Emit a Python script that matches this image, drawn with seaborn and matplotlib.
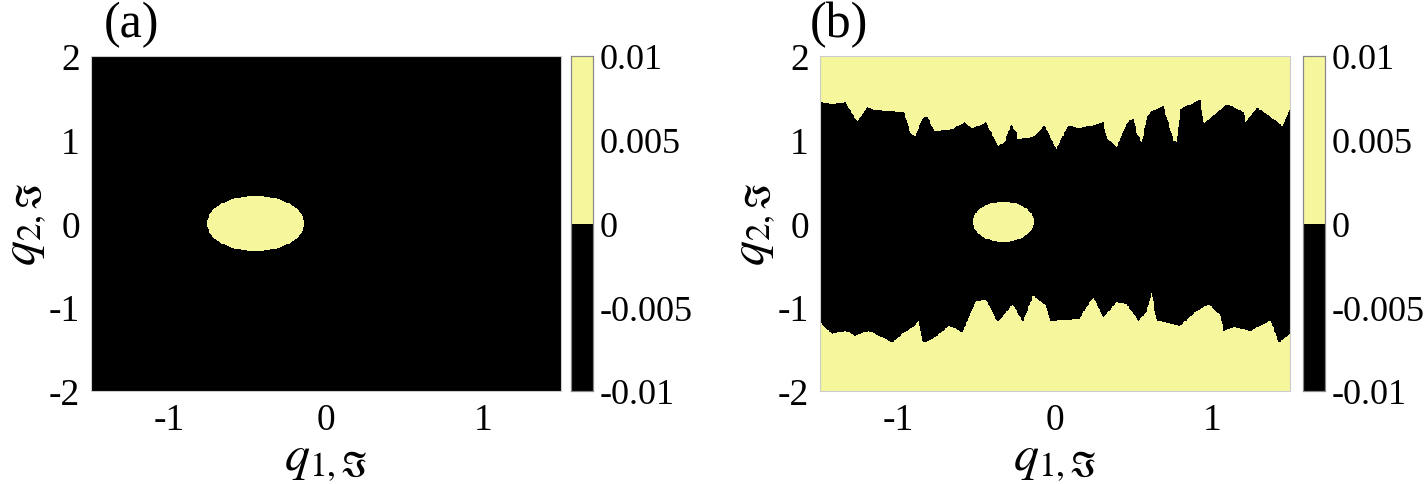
import numpy as np
import pandas as pd
import matplotlib
matplotlib.use("Agg")
import matplotlib.pyplot as plt
import seaborn as sns
from matplotlib.colors import ListedColormap

# grid range of both panels
q1_range = [-1.5, 1.5]
q2_range = [-2.0, 2.0]

# yellow blob in panel (a): centre and half widths
blob_a = {"q1": -0.45, "q2": 0.0, "r1": 0.31, "r2": 0.33}
# smaller blob in panel (b)
blob_b = {"q1": -0.33, "q2": 0.02, "r1": 0.195, "r2": 0.24}

# panel (b): jagged edge between black band and upper yellow region
upper_q1 = [-1.5, -1.423, -1.338, -1.263, -1.199, -1.124, -0.963, -0.921, -0.889, -0.846,
            -0.814, -0.771, -0.654, -0.579, -0.526, -0.440, -0.365, -0.322, -0.280, -0.248,
            -0.237, -0.141, -0.066, 0.008, 0.083, 0.158, 0.308, 0.329, 0.393, 0.457,
            0.500, 0.521, 0.553, 0.585, 0.607, 0.692, 0.713, 0.756, 0.778, 0.799,
            0.928, 0.949, 1.098, 1.205, 1.216, 1.290, 1.451, 1.5]
upper_q2 = [1.45, 1.43, 1.447, 1.216, 1.387, 1.347, 1.328, 1.069, 1.049, 1.256,
            1.28, 1.108, 1.128, 1.208, 1.136, 1.208, 0.929, 0.969, 1.188, 1.089,
            1.009, 1.029, 1.168, 0.890, 1.168, 1.136, 1.208, 1.029, 0.910, 1.188,
            1.268, 1.089, 0.969, 1.248, 1.328, 1.407, 1.268, 0.989, 0.969, 1.367,
            1.478, 1.19, 1.427, 1.328, 1.208, 1.387, 1.168, 1.36]

# panel (b): jagged edge between black band and lower yellow region
lower_q1 = [-1.5, -1.423, -1.338, -1.274, -1.188, -1.038, -0.963, -0.910, -0.867, -0.846,
            -0.782, -0.675, -0.590, -0.504, -0.440, -0.365, -0.269, -0.205, -0.141, -0.056,
            -0.034, 0.158, 0.179, 0.244, 0.308, 0.393, 0.457, 0.532, 0.585, 0.617,
            0.649, 0.799, 0.895, 0.981, 1.056, 1.077, 1.141, 1.248, 1.376, 1.429, 1.5]
lower_q2 = [-1.18, -1.319, -1.28, -1.339, -1.28, -1.419, -1.299, -1.24, -1.16, -1.42,
            -1.38, -1.22, -1.299, -0.921, -0.91, -1.18, -0.961, -1.18, -0.862, -0.981,
            -1.16, -1.14, -1.06, -0.881, -1.12, -0.941, -0.961, -1.16, -1.06, -0.822,
            -1.16, -1.22, -1.06, -0.961, -1.10, -1.28, -1.24, -1.28, -1.16, -1.42, -1.32]

level = 0.01
cbar_ticks = [-0.01, -0.005, 0, 0.005, 0.01]
cbar_labels = ["-0.01", "-0.005", "0", "0.005", "0.01"]
x_ticks = [-1, 0, 1]
y_ticks = [-2, -1, 0, 1, 2]

yellow = "#F6F69D"
cmap = ListedColormap(["#000000", yellow])

# grid of cell centres
nx, ny = 600, 400
step1 = (q1_range[1] - q1_range[0]) / nx
step2 = (q2_range[1] - q2_range[0]) / ny
q1 = q1_range[0] + step1 * (np.arange(nx) + 0.5)
q2 = q2_range[0] + step2 * (np.arange(ny) + 0.5)
Q1, Q2 = np.meshgrid(q1, q2)


def inside(blob):
    return ((Q1 - blob["q1"]) / blob["r1"]) ** 2 + ((Q2 - blob["q2"]) / blob["r2"]) ** 2 <= 1


field_a = np.where(inside(blob_a), level, -level)

top_edge = np.interp(q1, upper_q1, upper_q2)
bot_edge = np.interp(q1, lower_q1, lower_q2)
yellow_b = inside(blob_b) | (Q2 > top_edge[None, :]) | (Q2 < bot_edge[None, :])
field_b = np.where(yellow_b, level, -level)

sns.set_style("white")
plt.rcParams["font.family"] = ["Liberation Serif", "DejaVu Serif"]
plt.rcParams["mathtext.fontset"] = "stix"
plt.rcParams["axes.unicode_minus"] = False
plt.rcParams["text.color"] = "black"
plt.rcParams["axes.labelcolor"] = "black"
plt.rcParams["xtick.color"] = "black"
plt.rcParams["ytick.color"] = "black"

fig = plt.figure(figsize=(14.25, 4.85), dpi=100)

panels = [
    (field_a, 91, 571, "(a)", 104),
    (field_b, 820, 1303, "(b)", 810),
]

for field, ax_left, cb_left, tag, tag_x in panels:
    ax = fig.add_axes([ax_left / 1425, 93 / 485, 470 / 1425, 335 / 485])
    cax = fig.add_axes([cb_left / 1425, 93 / 485, 22 / 1425, 335 / 485])
    df = pd.DataFrame(field, index=np.round(q2, 3), columns=np.round(q1, 3))
    sns.heatmap(df, ax=ax, cbar_ax=cax, cmap=cmap, vmin=-level, vmax=level,
                xticklabels=False, yticklabels=False, rasterized=True)
    ax.set_ylim(0, ny)
    ax.set_xlim(0, nx)
    ax.set_xticks(np.interp(x_ticks, q1_range, [0, nx]))
    ax.set_xticklabels([str(t) for t in x_ticks], fontsize=27)
    ax.set_yticks(np.interp(y_ticks, q2_range, [0, ny]))
    ax.set_yticklabels([str(t) for t in y_ticks], fontsize=27)
    ax.tick_params(length=0, pad=8)
    for s in ax.spines.values():
        s.set_visible(True)
        s.set_color("#cccccc")
        s.set_linewidth(0.8)
    ax.set_xlabel(r"$q_{1,\Im}$", fontsize=36, labelpad=0)
    ax.set_ylabel(r"$q_{2,\Im}$", fontsize=36, labelpad=0)

    cax.set_yticks(cbar_ticks)
    cax.set_yticklabels(cbar_labels, fontsize=26)
    cax.tick_params(length=3, direction="in", pad=5, width=0.6)
    for s in cax.spines.values():
        s.set_visible(True)
        s.set_color("#888888")
        s.set_linewidth(0.8)

    fig.text(tag_x / 1425, 1 - 2 / 485, tag, fontsize=36, ha="left", va="top")

fig.savefig("out.png", dpi=100)
